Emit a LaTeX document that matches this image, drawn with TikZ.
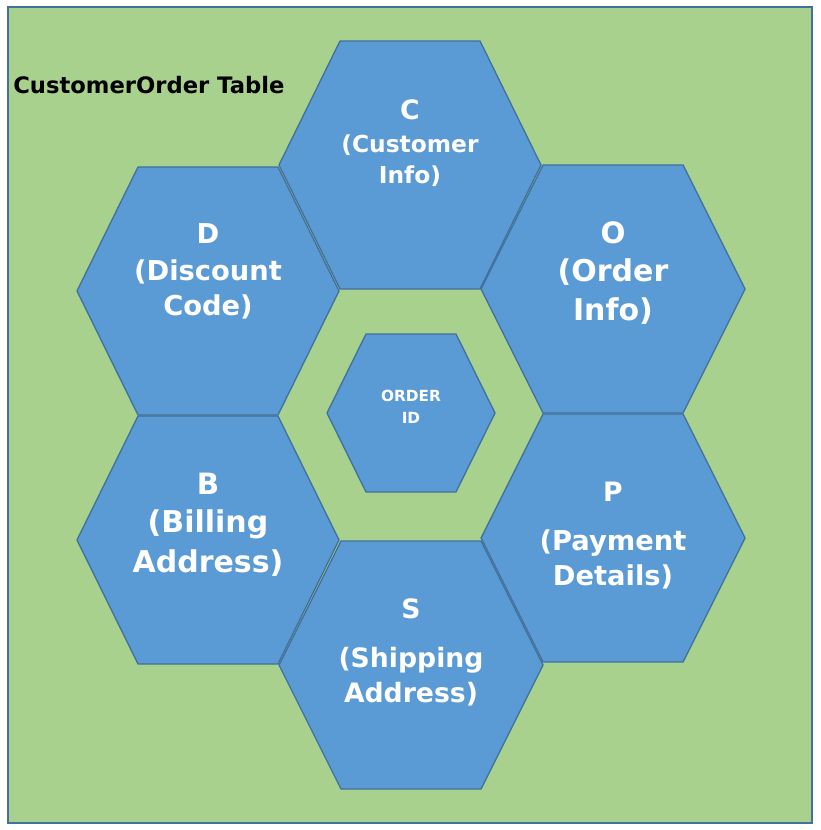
\documentclass[tikz,border=0pt]{standalone}
\usepackage{fontspec}
\setmainfont{DejaVu Sans}
\usetikzlibrary{calc}
\definecolor{bg}{HTML}{A9D18E}
\definecolor{hexf}{HTML}{5B9BD5}
\definecolor{hexd}{HTML}{41719C}
\begin{document}
\begin{tikzpicture}[x=0.75pt,y=-0.75pt,
  hexshape/.style={fill=hexf,draw=hexd,line width=1pt,line join=round},
  lbl/.style={text=white,font=\bfseries,inner sep=0pt}]
\useasboundingbox (0,0) rectangle (820,830);
\draw[fill=bg,draw=hexd,line width=1.2pt] (8,7) rectangle (812,823);
\newcommand{\hexagon}[6]{% name cx cy hw hh tw
  \coordinate (#1) at (#2,#3);
  \draw[hexshape] ($(#1)+(-#4,0)$) -- ($(#1)+(-#6,-#5)$) -- ($(#1)+(#6,-#5)$) -- ($(#1)+(#4,0)$) -- ($(#1)+(#6,#5)$) -- ($(#1)+(-#6,#5)$) -- cycle;}
\newcommand{\txt}[5]{\node[lbl] (#1) at (#2,#3) {\fontsize{#4}{#4}\selectfont #5};}
\hexagon{hc}{410}{165}{131}{124}{70}
\hexagon{hd}{208}{291}{131}{124}{70}
\hexagon{ho}{613}{289}{132}{124}{70}
\hexagon{hb}{208}{540}{131}{124}{70}
\hexagon{hp}{613}{538}{132}{124}{70}
\hexagon{hs}{411}{665}{132}{124}{70}
\hexagon{hm}{411}{413}{84}{79}{45}
\node[anchor=west,font=\bfseries,inner sep=0pt] (title) at (13,85) {\fontsize{17}{19}\selectfont CustomerOrder Table};
\txt{tc1}{410}{110}{20}{C}
\txt{tc2}{410}{145}{17.5}{(Customer}
\txt{tc3}{410}{176}{17.5}{Info)}
\txt{td1}{208}{234}{20.5}{D}
\txt{td2}{208}{272}{20.5}{(Discount}
\txt{td3}{208}{307}{20.5}{Code)}
\txt{to1}{613}{233}{22}{O}
\txt{to2}{613}{272}{22.5}{(Order}
\txt{to3}{613}{311}{22.5}{Info)}
\txt{tb1}{208}{484}{22}{B}
\txt{tb2}{208}{524}{22.5}{(Billing}
\txt{tb3}{208}{563}{22.5}{Address)}
\txt{tp1}{613}{492}{20}{P}
\txt{tp2}{613}{543}{20.5}{(Payment}
\txt{tp3}{613}{577}{20.5}{Details)}
\txt{ts1}{411}{609}{20}{S}
\txt{ts2}{411}{660}{20}{(Shipping}
\txt{ts3}{411}{694}{20}{Address)}
\txt{tm1}{411}{396}{11.5}{ORDER}
\txt{tm2}{411}{418}{11.5}{ID}
\end{tikzpicture}
\end{document}
